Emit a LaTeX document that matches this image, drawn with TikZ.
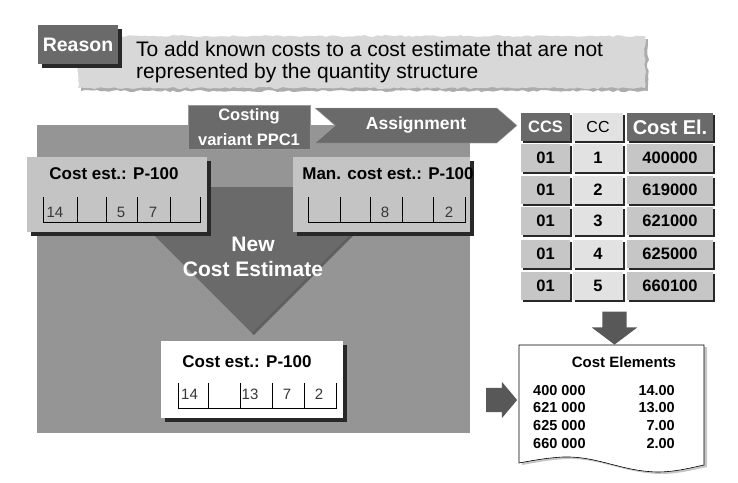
\documentclass[tikz,border=0pt]{standalone}
\usepackage{fontspec}
\setmainfont{Liberation Sans}
\usetikzlibrary{positioning,shapes.arrows,shapes.symbols,shadows,decorations.pathmorphing}

\definecolor{bggray}{RGB}{149,149,149}
\definecolor{trigray}{RGB}{106,106,106}
\definecolor{panelgray}{RGB}{196,196,196}
\definecolor{boxdark}{RGB}{106,106,106}
\definecolor{papergray}{RGB}{216,216,216}
\definecolor{cellgray}{RGB}{198,198,198}
\definecolor{celllight}{RGB}{226,226,226}
\definecolor{shadowdark}{RGB}{40,40,40}
\definecolor{arrowgray}{RGB}{88,88,88}
\definecolor{numgray}{RGB}{55,55,55}

\begin{document}
\begin{tikzpicture}[x=1pt, y=-1pt,
    panel/.style={fill=panelgray, inner sep=0pt,
      drop shadow={shadow xshift=4pt, shadow yshift=-4pt, fill=shadowdark, opacity=1}},
    darkbox/.style={fill=boxdark, inner sep=0pt, text=white},
    cell/.style={fill=cellgray, minimum height=28pt, inner sep=0pt,
      font=\bfseries\fontsize{16.5}{16.5}\selectfont,
      drop shadow={shadow xshift=2pt, shadow yshift=-2pt, fill=shadowdark, opacity=1}},
    title/.style={font=\bfseries\fontsize{17}{17}\selectfont, inner sep=0pt},
    num/.style={font=\fontsize{15}{15}\selectfont, text=numgray, inner sep=0pt},
    docrow/.style={font=\bfseries\fontsize{14.5}{14.5}\selectfont, inner sep=0pt},
    blockarrow/.style={single arrow, fill=arrowgray, inner xsep=0pt, inner ysep=12pt, single arrow head indent=0pt}]
    \useasboundingbox (0,0) rectangle (738,482);
    \pgfmathsetseed{7}

    % Reason: torn paper strip with the text
    \fill[gray!65, decorate, decoration={random steps, segment length=4pt, amplitude=1pt}] (81,39) rectangle (648,91);
    \fill[papergray, decorate, decoration={random steps, segment length=4pt, amplitude=1pt}] (78,36) rectangle (645,88);
    \node[darkbox, minimum width=80pt, minimum height=39pt, font=\bfseries\fontsize{19.5}{19.5}\selectfont,
      drop shadow={shadow xshift=4pt, shadow yshift=-4pt, fill=shadowdark, opacity=1}] (reason) at (78,44.5) {Reason};
    \node[anchor=north west, align=left, inner sep=0pt, font=\fontsize{21}{22}\selectfont] (why) at (136,41)
      {To add known costs to a cost estimate that are not\\represented by the quantity structure};

    % Gray area and the merging triangle
    \fill[bggray] (37,125) rectangle (470,433);
    \fill[trigray] (106,187) -- (400,187) -- (253,334) -- cycle;
    \draw[line width=2.5pt, shadowdark!75] (400,187) -- (253,334);

    % Costing variant and assignment
    \node[darkbox, draw=gray!80, minimum width=122pt, minimum height=44pt, align=center,
      font=\bfseries\fontsize{16.5}{25}\selectfont] (variant) at (249,127) {Costing\\variant PPC1};
    \node[signal, signal to=east, signal from=west, signal pointer angle=82, fill=trigray, draw=gray!70,
      minimum width=202pt, minimum height=35pt, inner sep=0pt, text=white,
      font=\bfseries\fontsize{17.5}{17.5}\selectfont] (assign) at (416,125.5) {Assignment};

    % Source cost estimates
    \node[panel, minimum width=180pt, minimum height=75pt] (lbox) at (117,194.5) {};
    \node[title] (ltitle) at (114,174) {Cost est.: P-100};
    \draw (43,197) -- (43,222) -- (200,222) -- (200,197) (77,197) -- (77,222) (106,197) -- (106,222)
      (137,197) -- (137,222) (170,197) -- (170,222);
    \node[num] (l14) at (55,212) {14};
    \node[num] (l5) at (121,212) {5};
    \node[num] (l7) at (153,212) {7};

    \node[panel, minimum width=177pt, minimum height=75pt] (rbox) at (381.5,194.5) {};
    \node[title] (rtitle) at (388,174) {Man. cost est.: P-100};
    \draw (308,197) -- (308,222) -- (465,222) -- (465,197) (340,197) -- (340,222) (370,197) -- (370,222)
      (402,197) -- (402,222) (433,197) -- (433,222);
    \node[num] (r8) at (385,212) {8};
    \node[num] (r2) at (449,212) {2};

    \node[font=\bfseries\fontsize{21}{25}\selectfont, text=white, align=center, inner sep=0pt] (newce) at (253,257)
      {New\\Cost Estimate};

    % Resulting cost estimate
    \node[panel, fill=white, minimum width=182pt, minimum height=77pt] (nbox) at (252,379.5) {};
    \node[title] (ntitle) at (247,361.5) {Cost est.: P-100};
    \draw (178,383) -- (178,408) -- (336,408) -- (336,383) (208,383) -- (208,408) (240,383) -- (240,408)
      (272,383) -- (272,408) (304,383) -- (304,408);
    \node[num] (n14) at (189.5,394) {14};
    \node[num] (n13) at (250,394) {13};
    \node[num] (n7) at (287,394) {7};
    \node[num] (n2) at (319,394) {2};

    % Cost component structure table
    \node[cell, fill=boxdark, text=white, minimum width=49pt, font=\bfseries\fontsize{16.5}{16.5}\selectfont] (hccs) at (545.5,127) {CCS};
    \node[cell, fill=celllight, minimum width=50pt, font=\fontsize{16}{16}\selectfont] (hcc) at (598,127) {CC};
    \node[cell, fill=boxdark, text=white, minimum width=86pt, font=\bfseries\fontsize{20}{20}\selectfont] (hce) at (670,127) {Cost El.};

    \node[cell, minimum width=49pt] (ccs1) at (545.5,157.5) {01};
    \node[cell, fill=celllight, minimum width=50pt] (cc1) at (598,157.5) {1};
    \node[cell, minimum width=86pt] (ce1) at (670,157.5) {400000};

    \node[cell, minimum width=49pt] (ccs2) at (545.5,190) {01};
    \node[cell, fill=celllight, minimum width=50pt] (cc2) at (598,190) {2};
    \node[cell, minimum width=86pt] (ce2) at (670,190) {619000};

    \node[cell, minimum width=49pt] (ccs3) at (545.5,221) {01};
    \node[cell, fill=celllight, minimum width=50pt] (cc3) at (598,221) {3};
    \node[cell, minimum width=86pt] (ce3) at (670,221) {621000};

    \node[cell, minimum width=49pt] (ccs4) at (545.5,254) {01};
    \node[cell, fill=celllight, minimum width=50pt] (cc4) at (598,254) {4};
    \node[cell, minimum width=86pt] (ce4) at (670,254) {625000};

    \node[cell, minimum width=49pt] (ccs5) at (545.5,286) {01};
    \node[cell, fill=celllight, minimum width=50pt] (cc5) at (598,286) {5};
    \node[cell, minimum width=86pt] (ce5) at (670,286) {660100};

    % Arrows into the cost element list
    \node[blockarrow, rotate=-90, minimum height=33pt, single arrow head extend=10.5pt,
      single arrow tip angle=106] (down) at (614.5,323.5) {};
    \node[blockarrow, minimum height=31pt, single arrow head extend=6pt,
      single arrow tip angle=100] (toright) at (496.5,400) {};

    % Cost element list (paper sheet)
    \fill[gray!45, shift={(3,2)}] (519,345) -- (704,345) -- (704,465) .. controls (690,468) and (675,472) .. (657,472)
      .. controls (620,471) and (598,456) .. (563,457) .. controls (545,458) and (530,461) .. (519,463) -- cycle;
    \draw[fill=white, line width=0.6pt] (519,345) -- (704,345) -- (704,465) .. controls (690,468) and (675,472) .. (657,472)
      .. controls (620,471) and (598,456) .. (563,457) .. controls (545,458) and (530,461) .. (519,463) -- cycle;
    \node[docrow, font=\bfseries\fontsize{15}{15}\selectfont] (cehead) at (624,362) {Cost Elements};
    \node[docrow, anchor=west] (c1) at (533,390.5) {400 000};
    \node[docrow, anchor=west] (c2) at (533,408) {621 000};
    \node[docrow, anchor=west] (c3) at (533,425.5) {625 000};
    \node[docrow, anchor=west] (c4) at (533,443) {660 000};
    \node[docrow, anchor=east] (v1) at (675,390.5) {14.00};
    \node[docrow, anchor=east] (v2) at (675,408) {13.00};
    \node[docrow, anchor=east] (v3) at (675,425.5) {7.00};
    \node[docrow, anchor=east] (v4) at (675,443) {2.00};
\end{tikzpicture}
\end{document}
